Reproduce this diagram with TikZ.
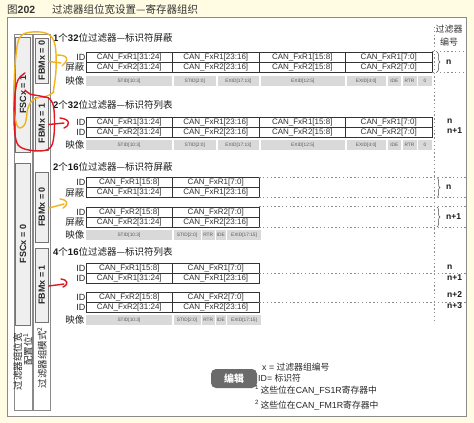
\documentclass[tikz,border=0pt]{standalone}
\usepackage{fontspec}
\setmainfont{Liberation Sans}
\newfontfamily\cjk{Noto Sans CJK SC}
\usetikzlibrary{decorations.pathreplacing}
\definecolor{cream}{HTML}{FFFCE3}
\definecolor{framegray}{HTML}{8A8A8A}
\definecolor{mapfill}{HTML}{D9D9D9}
\definecolor{anorange}{HTML}{F3B31C}
\definecolor{anred}{HTML}{E3171F}
\definecolor{regfill}{HTML}{EFEFEF}
\newcommand\myfs[1]{\fontsize{#1}{#1}\selectfont}
\newcommand\rowfour[3]{%
  \node[cell] (#1a) at (129.25,#2) {CAN\_FxR#3[31:24]};
  \node[cell] (#1b) at (215.75,#2) {CAN\_FxR#3[23:16]};
  \node[cell] (#1c) at (302.25,#2) {CAN\_FxR#3[15:8]};
  \node[cell] (#1d) at (388.75,#2) {CAN\_FxR#3[7:0]};}
\newcommand\rowtwo[5]{%
  \node[cell] (#1a) at (129.25,#2) {CAN\_FxR#3[#4]};
  \node[cell] (#1b) at (215.75,#2) {CAN\_FxR#3[#5]};}
\newcommand\mapfour[2]{%
  \node[mapcell,minimum width=86pt] (#1a) at (129,#2) {STID[10:3]};
  \node[mapcell,minimum width=42.5pt] (#1b) at (194.75,#2) {STID[2:0]};
  \node[mapcell,minimum width=41.5pt] (#1c) at (238.25,#2) {EXID[17:13]};
  \node[mapcell,minimum width=84.5pt] (#1d) at (302.75,#2) {EXID[12:5]};
  \node[mapcell,minimum width=39.5pt] (#1e) at (366.25,#2) {EXID[4:0]};
  \node[mapcell,minimum width=13.5pt] (#1f) at (394.25,#2) {IDE};
  \node[mapcell,minimum width=14pt] (#1g) at (409.5,#2) {RTR};
  \node[mapcell,minimum width=14pt] (#1h) at (425,#2) {0};}
\newcommand\maptwo[2]{%
  \node[mapcell,minimum width=86pt] (#1a) at (129,#2) {STID[10:3]};
  \node[mapcell,minimum width=27pt] (#1b) at (187,#2) {STID[2:0]};
  \node[mapcell,minimum width=12.5pt] (#1c) at (208.25,#2) {RTR};
  \node[mapcell,minimum width=9.5pt] (#1d) at (220.75,#2) {IDE};
  \node[mapcell,minimum width=34pt] (#1e) at (244,#2) {EXID[17:15]};}
\begin{document}
\begin{tikzpicture}[x=1pt,y=-1pt,
  cell/.style={draw=black!80,line width=0.5pt,fill=white,inner sep=0pt,minimum width=86.5pt,minimum height=10pt,font=\myfs{8},text=black!80},
  mapcell/.style={fill=mapfill,inner sep=0pt,minimum height=10pt,font=\myfs{4.8},text=black!65},
  lab/.style={anchor=east,inner sep=0pt,font=\myfs{9},text=black!85},
  clab/.style={anchor=east,inner sep=0pt,font=\cjk\myfs{9.5},text=black!85},
  hd/.style={anchor=west,inner sep=0pt,font=\myfs{9.5},text=black!90},
  nlab/.style={anchor=west,inner sep=0pt,font=\bfseries\myfs{8.5},text=black!90},
  dotline/.style={draw=black!45,line width=0.6pt,dash pattern=on 1.4pt off 2.4pt},
  bracestyle/.style={draw=black!70,line width=0.5pt,decorate,decoration={brace,amplitude=3pt}},
  colbox/.style={draw=framegray,line width=0.7pt,fill=white,inner sep=0pt},
  regbox/.style={draw=black!55,line width=0.7pt,fill=regfill,inner sep=0pt,rotate=90,font=\bfseries\myfs{9},text=black!85},
  orangepen/.style={draw=anorange,line width=1.4pt,line cap=round,line join=round},
  redpen/.style={draw=anred,line width=1.4pt,line cap=round,line join=round},
  note/.style={anchor=west,inner sep=0pt,font=\myfs{8.8},text=black!85},
]
\fill[cream] (0,0) rectangle (474,423);
\useasboundingbox (0,0) rectangle (474,423);

% title
\node[anchor=west,inner sep=0pt,font=\myfs{10.5},text=black!80] (ttlnum) at (7,10) {{\cjk 图}\textbf{202}};
\node[anchor=west,inner sep=0pt,font=\cjk\myfs{10.5},text=black!80] (ttl) at (52,10) {过滤器组位宽设置—寄存器组织};

% frame
\node[draw=framegray,fill=white,line width=0.8pt,minimum width=459pt,minimum height=399pt,inner sep=0pt] (fr) at (236.5,216.5) {};

% left columns
\node[colbox,minimum width=18pt,minimum height=376pt] (col1) at (23,222) {};
\node[colbox,minimum width=16.5pt,minimum height=376pt] (col2) at (41.75,222) {};
\node[regbox,minimum width=115pt,minimum height=15pt] (fsc1) at (23,94.5) {FSCx = 1};
\node[regbox,minimum width=162pt,minimum height=15pt] (fsc0) at (23,244) {FSCx = 0};
\node[regbox,minimum width=45pt,minimum height=13.5pt] (fbm0a) at (41.75,60.5) {FBMx = 0};
\node[regbox,minimum width=53pt,minimum height=13.5pt] (fbm1a) at (41.75,123.5) {FBMx = 1};
\node[regbox,minimum width=70pt,minimum height=13.5pt] (fbm0b) at (41.75,207) {FBMx = 0};
\node[regbox,minimum width=74pt,minimum height=13.5pt] (fbm1b) at (41.75,285) {FBMx = 1};
\node[rotate=90,anchor=east,align=right,inner sep=0pt,font=\cjk\fontsize{9.5}{10.5}\selectfont,text=black!85] (col1txt) at (23,333) {过滤器组位宽\\配置位\textsuperscript{1}};
\node[rotate=90,anchor=east,inner sep=0pt,font=\cjk\myfs{9.5},text=black!85] (col2txt) at (42,327) {过滤器组模式\textsuperscript{2}};

% filter number header
\node[inner sep=0pt,font=\cjk\myfs{9},text=black!80] (hdr1) at (449,29) {过滤器};
\node[inner sep=0pt,font=\cjk\myfs{9},text=black!80] (hdr2) at (449,42) {编号};
\coordinate (vt) at (434.5,27);
\coordinate (vb) at (434.5,323);
\draw[dotline] (vt) -- (vb);

% ---------- section 1
\node[hd] (h1) at (53,38) {\textbf{1}{\cjk 个}\textbf{32}{\cjk 位过滤器—标识符屏蔽}};
\rowfour{sa}{57}{1}
\rowfour{sb}{67}{2}
\mapfour{sm}{81}
\node[lab] (la1) at (85.5,57) {ID};
\node[clab] (la2) at (84.5,67) {屏蔽};
\node[clab] (la3) at (84.5,81) {映像};
\draw[dotline] (sad.north east) -- (sad.north east -| fr.east);
\draw[dotline] (sbd.south east) -- (sbd.south east -| fr.east);
\coordinate (b1t) at (437,52);
\coordinate (b1b) at (437,72);
\draw[bracestyle] (b1t) -- (b1b);
\node[nlab] (n1) at (446,62) {n};

% ---------- section 2
\node[hd] (h2) at (53,105) {\textbf{2}{\cjk 个}\textbf{32}{\cjk 位过滤器—标识符列表}};
\rowfour{ta}{122}{1}
\rowfour{tb}{132}{2}
\mapfour{tm}{145}
\node[lab] (lb1) at (85.5,122) {ID};
\node[lab] (lb2) at (85.5,132) {ID};
\node[clab] (lb3) at (84.5,145) {映像};
\node[nlab] (n2a) at (447,121) {n};
\node[nlab] (n2b) at (447,131) {n+1};

% ---------- section 3
\node[hd] (h3) at (53,167) {\textbf{2}{\cjk 个}\textbf{16}{\cjk 位过滤器—标识符屏蔽}};
\rowtwo{ua}{182.5}{1}{15:8}{7:0}
\rowtwo{ub}{192.5}{1}{31:24}{23:16}
\rowtwo{uc}{212}{2}{15:8}{7:0}
\rowtwo{ud}{222}{2}{31:24}{23:16}
\maptwo{um}{235}
\node[lab] (lc1) at (85.5,182.5) {ID};
\node[clab] (lc2) at (84.5,192.5) {屏蔽};
\node[lab] (lc3) at (85.5,212) {ID};
\node[clab] (lc4) at (84.5,222) {屏蔽};
\node[clab] (lc5) at (84.5,235) {映像};
\draw[dotline] (uab.north east) -- (uab.north east -| fr.east);
\draw[dotline] (ubb.south east) -- (ubb.south east -| fr.east);
\draw[dotline] (ucb.north east) -- (ucb.north east -| fr.east);
\draw[dotline] (udb.south east) -- (udb.south east -| fr.east);
\coordinate (b3t) at (437,177.5);
\coordinate (b3b) at (437,197.5);
\coordinate (b4t) at (437,207);
\coordinate (b4b) at (437,227);
\draw[bracestyle] (b3t) -- (b3b);
\draw[bracestyle] (b4t) -- (b4b);
\node[nlab] (n3a) at (446,187.5) {n};
\node[nlab] (n3b) at (446,217) {n+1};

% ---------- section 4
\node[hd] (h4) at (53,252) {\textbf{4}{\cjk 个}\textbf{16}{\cjk 位过滤器—标识符列表}};
\rowtwo{va}{268}{1}{15:8}{7:0}
\rowtwo{vb}{278}{1}{31:24}{23:16}
\rowtwo{vc}{297}{2}{15:8}{7:0}
\rowtwo{vd}{307}{2}{31:24}{23:16}
\maptwo{vm}{320}
\node[lab] (ld1) at (85.5,268) {ID};
\node[lab] (ld2) at (85.5,278) {ID};
\node[lab] (ld3) at (85.5,297) {ID};
\node[lab] (ld4) at (85.5,307) {ID};
\node[clab] (ld5) at (84.5,320) {映像};
\draw[dotline] (vab.south east) -- (vab.south east -| fr.east);
\draw[dotline] (vcb.south east) -- (vcb.south east -| fr.east);
\node[nlab] (n4a) at (447,267) {n};
\node[nlab] (n4b) at (447,278) {n+1};
\node[nlab] (n4c) at (447,295) {n+2};
\node[nlab] (n4d) at (447,306) {n+3};

% ---------- footnotes
\node[fill=black!58,rounded corners=5pt,minimum width=46pt,minimum height=19pt,inner sep=0pt,text=white,font=\cjk\bfseries\myfs{10}] (edit) at (234,378.5) {编辑};
\node[note] (f1) at (262,367) {x = {\cjk 过滤器组编号}};
\node[note] (f2) at (258,378) {ID= {\cjk 标识符}};
\node[note] (f3) at (255,390) {\textsuperscript{1}\,{\cjk 这些位在}CAN\_FS1R{\cjk 寄存器中}};
\node[note] (f4) at (255,405) {\textsuperscript{2}\,{\cjk 这些位在}CAN\_FM1R{\cjk 寄存器中}};

% ---------- hand drawn annotations
\draw[orangepen] plot[smooth,tension=0.6] coordinates {(53,93) (56,70) (55,45) (48,34) (32,32) (20,37) (16,55) (14,85) (14,110) (18,127) (25,124) (28,108) (34,99) (47,96) (54,92)};
\draw[orangepen] (fbm0a.south) ++(0,1) -- (61,63);
\draw[orangepen] (57,55) .. controls (66,55) and (71,58) .. (62,66);
\draw[redpen] plot[smooth,tension=0.6] coordinates {(25,73) (18,80) (15,95) (14,120) (16,140) (22,148) (38,151) (50,148) (54,135) (54,110) (50,99) (40,96) (30,94) (25,90)};
\draw[redpen] (fbm1a.south) ++(0,1) -- (64,123);
\draw[redpen] (60,118) .. controls (70,119) and (71,125) .. (64,128);
\draw[orangepen] (fbm0b.south) ++(0,1) -- (64,204);
\draw[orangepen] (60,199) .. controls (68,200) and (69,204) .. (63,208);
\draw[redpen] (fbm1b.south) ++(0,1) -- (64,284);
\draw[redpen] (61,279) .. controls (68,280) and (69,284) .. (63,287);
\end{tikzpicture}
\end{document}
